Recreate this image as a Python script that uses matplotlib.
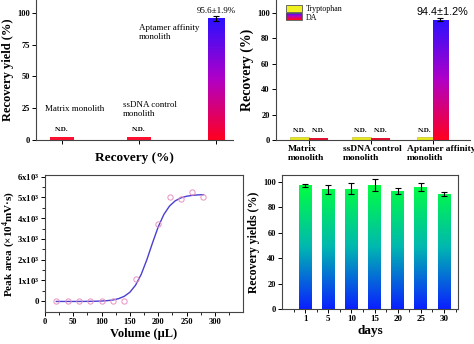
import matplotlib
matplotlib.use('Agg')
import numpy as np
import matplotlib.pyplot as plt
from matplotlib.colors import LinearSegmentedColormap
from matplotlib.legend_handler import HandlerBase
from matplotlib.patches import Rectangle, Patch
from matplotlib.transforms import blended_transform_factory

plt.rcParams['font.family'] = ['Liberation Serif', 'DejaVu Serif']
plt.rcParams['mathtext.fontset'] = 'custom'
plt.rcParams['mathtext.rm'] = 'Liberation Serif'
plt.rcParams['mathtext.bf'] = 'Liberation Serif:bold'
plt.rcParams['axes.linewidth'] = 0.8

# Data
# (a) recovery on the three monoliths
monoliths_a = ['Matrix monolith', 'ssDNA control\nmonolith', 'Aptamer affinity\nmonolith']
recov_a = [2.0, 2.0, 95.6]
err_a = [0, 0, 1.9]
# (b) tryptophan vs DA
monoliths_b = ['Matrix\nmonolith', 'ssDNA control\nmonolith', 'Aptamer affinity\nmonolith']
trp_b = [2.0, 2.0, 2.5]
da_b = [1.8, 1.8, 94.4]
err_b = [0, 0, 1.2]
# (c) breakthrough curve
vol_pts = [20, 40, 60, 80, 100, 120, 140, 160, 200, 220, 240, 260, 280]
area_pts = [0, 0, 0, 0, 0, 0, 0, 1050, 3700, 5020, 4940, 5260, 5030]
vol_fit = [20, 30, 40, 50, 60, 70, 80, 90, 100, 110, 120, 130, 140, 150, 160, 170,
           180, 190, 200, 210, 220, 230, 240, 250, 260, 270, 280]
area_fit = [-20, -20, -20, -20, -19, -18, -14, -9, 0, 18, 51, 114, 227, 426, 766, 1289,
            2000, 2811, 3578, 4180, 4587, 4836, 4980, 5058, 5101, 5124, 5136]
# (d) stability over days
days = ['1', '5', '10', '15', '20', '25', '30']
yields = [97.5, 94.2, 94.7, 97.6, 92.9, 96.3, 90.3]
yield_err = [1.3, 3.5, 4.2, 4.5, 2.5, 3.1, 1.7]

cmap_rb = LinearSegmentedColormap.from_list('rb', [(0, '#ff0020'), (0.5, '#b000c8'), (1, '#2a10ff')])
cmap_bg = LinearSegmentedColormap.from_list('bg', [(0, '#0a20ff'), (0.5, '#00b8b0'), (1, '#00ff40')])


def grad_fill(ax, bars, cmap, vmax):
    # paint each bar with a vertical gradient, clipped to the bar
    for b in bars:
        x0, y0, w, h = b.get_x(), b.get_y(), b.get_width(), b.get_height()
        if h < 10:
            continue
        g = np.linspace(0, h, 200).reshape(-1, 1)
        im = ax.imshow(g, cmap=cmap, vmin=0, vmax=vmax, extent=(x0, x0 + w, y0, y0 + h),
                       origin='lower', aspect='auto', zorder=2, interpolation='bilinear')
        im.set_clip_path(b)
        b.set_facecolor('none')


class GradHandler(HandlerBase):
    def create_artists(self, legend, orig, xd, yd, w, h, fs, trans):
        arts = []
        n = 8
        for i in range(n):
            arts.append(Rectangle((xd, yd + h * i / n), w, h / n, facecolor=cmap_rb(i / (n - 1)),
                                  edgecolor='none', transform=trans))
        arts.append(Rectangle((xd, yd), w, h, facecolor='none', edgecolor='#555', lw=0.6,
                              transform=trans))
        return arts


def style(ax, box=False):
    for s in ['top', 'right']:
        ax.spines[s].set_visible(box)
    for s in ax.spines.values():
        s.set_color('#444')
    ax.tick_params(direction='out', length=3, width=0.7, labelsize=6, pad=1.5)
    for lab in ax.get_xticklabels() + ax.get_yticklabels():
        lab.set_fontweight('bold')


fig = plt.figure(figsize=(4.74, 3.44), dpi=100)

# ---- (a)
ax1 = fig.add_axes([0.0759, 0.593, 0.4156, 0.407])
xa = np.arange(1, 4)
bars = ax1.bar(xa, recov_a, width=[0.32, 0.32, 0.21], color='#ff1030', zorder=2)
grad_fill(ax1, bars, cmap_rb, 96)
ax1.errorbar(xa[2:], recov_a[2:], yerr=err_a[2:], fmt='none', ecolor='k',
             elinewidth=0.8, capsize=2, capthick=0.8, zorder=3)
ax1.set_xlim(0.662, 3.22)
ax1.set_ylim(0, 110)
ax1.set_yticks([0, 25, 50, 75, 100])
ax1.set_xticks(xa)
ax1.set_xticklabels([])
ax1.set_ylabel('Recovery yield (%)', fontsize=9, fontweight='bold', labelpad=2)
ax1.set_xlabel('Recovery (%)', fontsize=9.5, fontweight='bold', labelpad=4)
style(ax1)
ax1.text(3, 98.5, '95.6±1.9%', ha='center', va='bottom', fontsize=6.5)
ax1.text(0.78, 24.4, monoliths_a[0], ha='left', va='center', fontsize=6.5)
ax1.text(1.79, 30.5, monoliths_a[1], ha='left', va='top', fontsize=6.5, linespacing=1.1)
ax1.text(2.0, 91, monoliths_a[2], ha='left', va='top', fontsize=6.5, linespacing=1.1)
for i in range(2):
    ax1.text(xa[i], 7.9, 'N.D.', ha='center', va='center', fontsize=5, fontweight='bold')

# ---- (b)
ax2 = fig.add_axes([0.582, 0.593, 0.409, 0.407])
xb = np.arange(1, 4)
wb = np.array([0.31, 0.31, 0.25])
ax2.bar(xb - wb / 2, trp_b, width=wb, color='#e8e820', edgecolor='#b8b810',
        lw=0.4, zorder=2)
b_da = ax2.bar(xb + wb / 2, da_b, width=wb, color='#e01030', zorder=2)
grad_fill(ax2, b_da, cmap_rb, 95)
ax2.errorbar(xb[2:] + wb[2:] / 2, da_b[2:], yerr=err_b[2:], fmt='none', ecolor='k',
             elinewidth=0.8, capsize=2, capthick=0.8, zorder=3)
ax2.set_xlim(0.468, 3.6)
ax2.set_ylim(0, 110)
ax2.set_yticks([0, 20, 40, 60, 80, 100])
ax2.set_xticks(xb)
ax2.set_xticklabels([])
ax2.set_ylabel('Recovery (%)', fontsize=10, fontweight='bold', labelpad=2)
style(ax2)
ax2.text(xb[2] + wb[2] / 2 + 0.03, 96.5, '94.4±1.2%', ha='center', va='bottom',
         fontsize=7.8, family='Liberation Sans')
nd_x = [xb[0] - wb[0] / 2, xb[0] + wb[0] / 2, xb[1] - wb[1] / 2, xb[1] + wb[1] / 2, xb[2] - wb[2] / 2]
for x in nd_x:
    ax2.text(x, 7.5, 'N.D.', ha='center', va='center', fontsize=5, fontweight='bold')
tb = blended_transform_factory(ax2.transData, ax2.transAxes)
for x, lab in zip([0.66, 1.55, 2.58], monoliths_b):
    ax2.text(x, -0.035, lab, transform=tb, ha='left', va='top', fontsize=6.8,
             fontweight='bold', linespacing=1.15)
h_trp = Patch(facecolor='#f0f020', edgecolor='#555', lw=0.6, label='Tryptophan')
h_da = Patch(facecolor='m', label='DA')
ax2.legend(handles=[h_trp, h_da], handler_map={h_da: GradHandler()},
           loc='upper left', bbox_to_anchor=(0.03, 1.0), frameon=False, fontsize=5.7,
           handlelength=2.0, handleheight=1.0, handletextpad=0.4, labelspacing=0.15,
           borderpad=0.1)

# ---- (c)
ax3 = fig.add_axes([0.0949, 0.093, 0.418, 0.398])
ax3.plot(vol_fit, area_fit, color='#4a3fd0', lw=1.0, zorder=2)
ax3.plot(vol_pts, area_pts, 'o', mfc='none', mec='#e890c0', ms=3.8, mew=0.7, zorder=3)
ax3.set_xlim(0, 350)
ax3.set_ylim(-530, 6080)
ax3.set_xticks([0, 50, 100, 150, 200, 250, 300])
ax3.set_xticks(np.arange(25, 350, 50), minor=True)
ax3.set_yticks(np.arange(0, 6001, 1000))
ax3.set_yticks(np.arange(500, 6000, 1000), minor=True)
ax3.set_yticklabels(['0'] + [r'$\mathbf{%dx10^3}$' % i for i in range(1, 7)])
ax3.set_xlabel('Volume (μL)', fontsize=9, fontweight='bold', labelpad=1)
ax3.set_ylabel('Peak area (×10' + r'$^{\mathbf{4}}$' + 'mV·s)', fontsize=8,
               fontweight='bold')
ax3.yaxis.set_label_coords(-0.14, 0.5)
style(ax3, box=True)
ax3.tick_params(axis='y', labelsize=6.3, pad=1)
ax3.tick_params(which='minor', direction='out', length=2, width=0.6)

# ---- (d)
ax4 = fig.add_axes([0.595, 0.1017, 0.371, 0.3895])
xd = np.arange(1, len(days) + 1)
bars = ax4.bar(xd, yields, width=0.56, color='#00ff40', zorder=2)
grad_fill(ax4, bars, cmap_bg, 98)
ax4.errorbar(xd, yields, yerr=yield_err, fmt='none', ecolor='k', elinewidth=0.8,
             capsize=2, capthick=0.8, zorder=3)
ax4.set_xlim(0, 7.6)
ax4.set_ylim(0, 105.5)
ax4.set_xticks(xd)
ax4.set_xticklabels(days)
ax4.set_xticks(np.arange(0.5, 7.6, 1), minor=True)
ax4.set_yticks([0, 20, 40, 60, 80, 100])
ax4.set_xlabel('days', fontsize=9.5, fontweight='bold', labelpad=1)
ax4.set_ylabel('Recovery yields (%)', fontsize=8.5, fontweight='bold', labelpad=2)
style(ax4, box=True)
ax4.tick_params(axis='x', labelsize=6.5)
ax4.tick_params(which='minor', direction='out', length=2, width=0.6)

fig.savefig('out.png', dpi=100)
